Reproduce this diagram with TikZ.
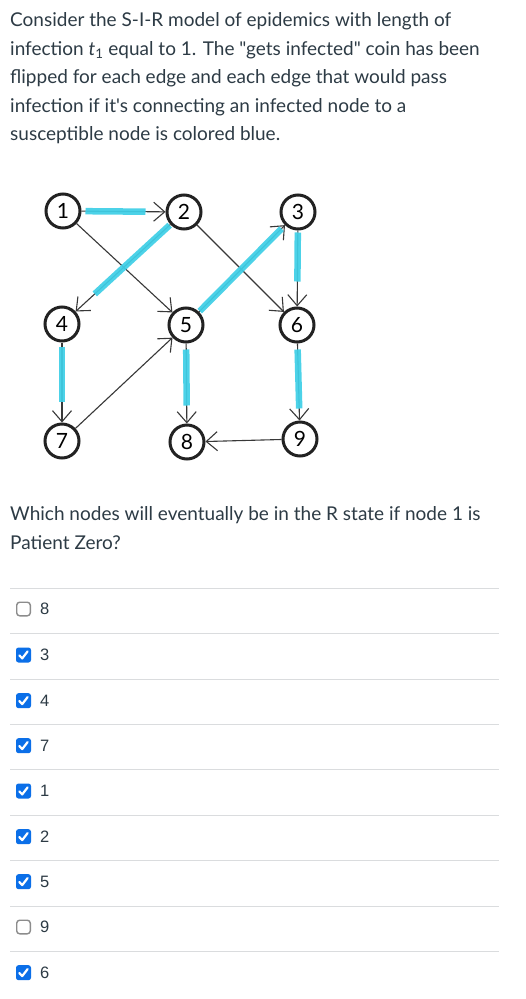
\documentclass[tikz,border=0pt]{standalone}
\usepackage{fontspec}
\setmainfont{Lato}[Ligatures=TeXOff]
\newfontfamily\optfont{Liberation Sans}
\usetikzlibrary{arrows.meta}
\definecolor{txt}{HTML}{2D3B45}
\definecolor{sep}{HTML}{DADCDE}
\definecolor{cbblue}{HTML}{0B6FE8}
\definecolor{cbgray}{HTML}{8C8C8C}
\definecolor{hlc}{HTML}{3FCFE7}
\definecolor{ink}{HTML}{222222}
\begin{document}
\begin{tikzpicture}[x=1pt,y=-1pt,
  gnode/.style={circle,draw=ink,line width=3pt,minimum size=34pt,inner sep=0pt,font=\fontsize{21}{21}\selectfont},
  edge/.style={draw=ink!90,line width=1.1pt,-{Straight Barb[length=11pt,width=19pt,line width=1.1pt]}},
  hl/.style={draw=hlc,line width=6.5pt,opacity=.93},
  bodytext/.style={anchor=base west,inner sep=0pt,text=txt,font=\fontsize{19}{22}\selectfont},
  optlabel/.style={anchor=base west,inner sep=0pt,text=txt,font=\optfont\fontsize{16.5}{18}\selectfont},
  sepline/.style={draw=sep,line width=1pt},
  boxon/.style={fill=cbblue,rounded corners=2.5pt},
  boxoff/.style={draw=cbgray,fill=white,line width=1.4pt,rounded corners=3pt},
  tick/.style={draw=white,line width=2.2pt,line cap=round,line join=round}
]
\useasboundingbox (0,0) rectangle (526,999);
\fill[white] (0,0) rectangle (526,999);

% question text
\node[bodytext] (t1) at (10,26.5) {Consider the S-I-R model of epidemics with length of};
\node[bodytext] (t2) at (10,55) {infection \textit{t}\textsubscript{1} equal to 1. The "gets infected" coin has been};
\node[bodytext] (t3) at (10,83.5) {flipped for each edge and each edge that would pass};
\node[bodytext] (t4) at (10,112) {infection if it's connecting an infected node to a};
\node[bodytext] (t5) at (10,140.5) {susceptible node is colored blue.};

% graph nodes
\node[gnode] (n1) at (63,211) {1};
\node[gnode] (n2) at (184,212) {2};
\node[gnode] (n3) at (298,212) {3};
\node[gnode] (n4) at (62,324) {4};
\node[gnode] (n5) at (186,325) {5};
\node[gnode] (n6) at (297,325) {6};
\node[gnode] (n7) at (62,441) {7};
\node[gnode] (n8) at (187,442) {8};
\node[gnode] (n9) at (300,439) {9};

% edges
\draw[edge] (n1) -- (n2);
\draw[edge] (n2) -- (n4);
\draw[edge] (n1) -- (n5);
\draw[edge] (n2) -- (n6);
\draw[edge] (n5) -- (n3);
\draw[edge] (n3) -- (n6);
\draw[edge] (n4) -- (n7);
\draw[edge] (n7) -- (n5);
\draw[edge] (n5) -- (n8);
\draw[edge] (n6) -- (n9);
\draw[edge] (n9) -- (n8);

% highlights (drawn over the edges, as in the sketch)
\draw[hl,shorten <=4pt,shorten >=20pt,yshift=2pt] (n1) -- (n2);
\draw[hl,shorten <=1pt,shorten >=26pt] (n2) -- (n4);
\draw[hl,shorten <=1pt,shorten >=5pt] (n5) -- (n3);
\draw[hl,shorten <=2pt,shorten >=25pt] (n3) -- (n6);
\draw[hl,shorten <=4pt,shorten >=21pt] (n4) -- (n7);
\draw[hl,shorten <=6pt,shorten >=18pt,xshift=4pt] (n5) -- (n8);
\draw[hl,shorten <=6pt,shorten >=12pt] (n6) -- (n9);

% second question
\node[bodytext] (q1) at (10,520) {Which nodes will eventually be in the R state if node 1 is};
\node[bodytext] (q2) at (10,549) {Patient Zero?};

% separators
\foreach \y in {588,633,679,724,769.5,815,860,906,951}
  \draw[sepline] (10,\y) -- (499,\y);

% options
\foreach \y/\lab/\on in {609/8/0,655/3/1,700.7/4/1,745.7/7/1,791/1/1,836.7/2/1,881.7/5/1,927/9/0,972.7/6/1}{
  \ifnum\on=1
    \path[boxon] (16,\y-7.5) rectangle (31,\y+7.5);
    \draw[tick] (19.3,\y+0.3) -- (22.2,\y+3.4) -- (27.6,\y-3.6);
  \else
    \path[boxoff] (16.7,\y-6.8) rectangle (30.3,\y+6.8);
  \fi
  \node[optlabel] at (40,\y+5.9) {\lab};
}
\end{tikzpicture}
\end{document}
